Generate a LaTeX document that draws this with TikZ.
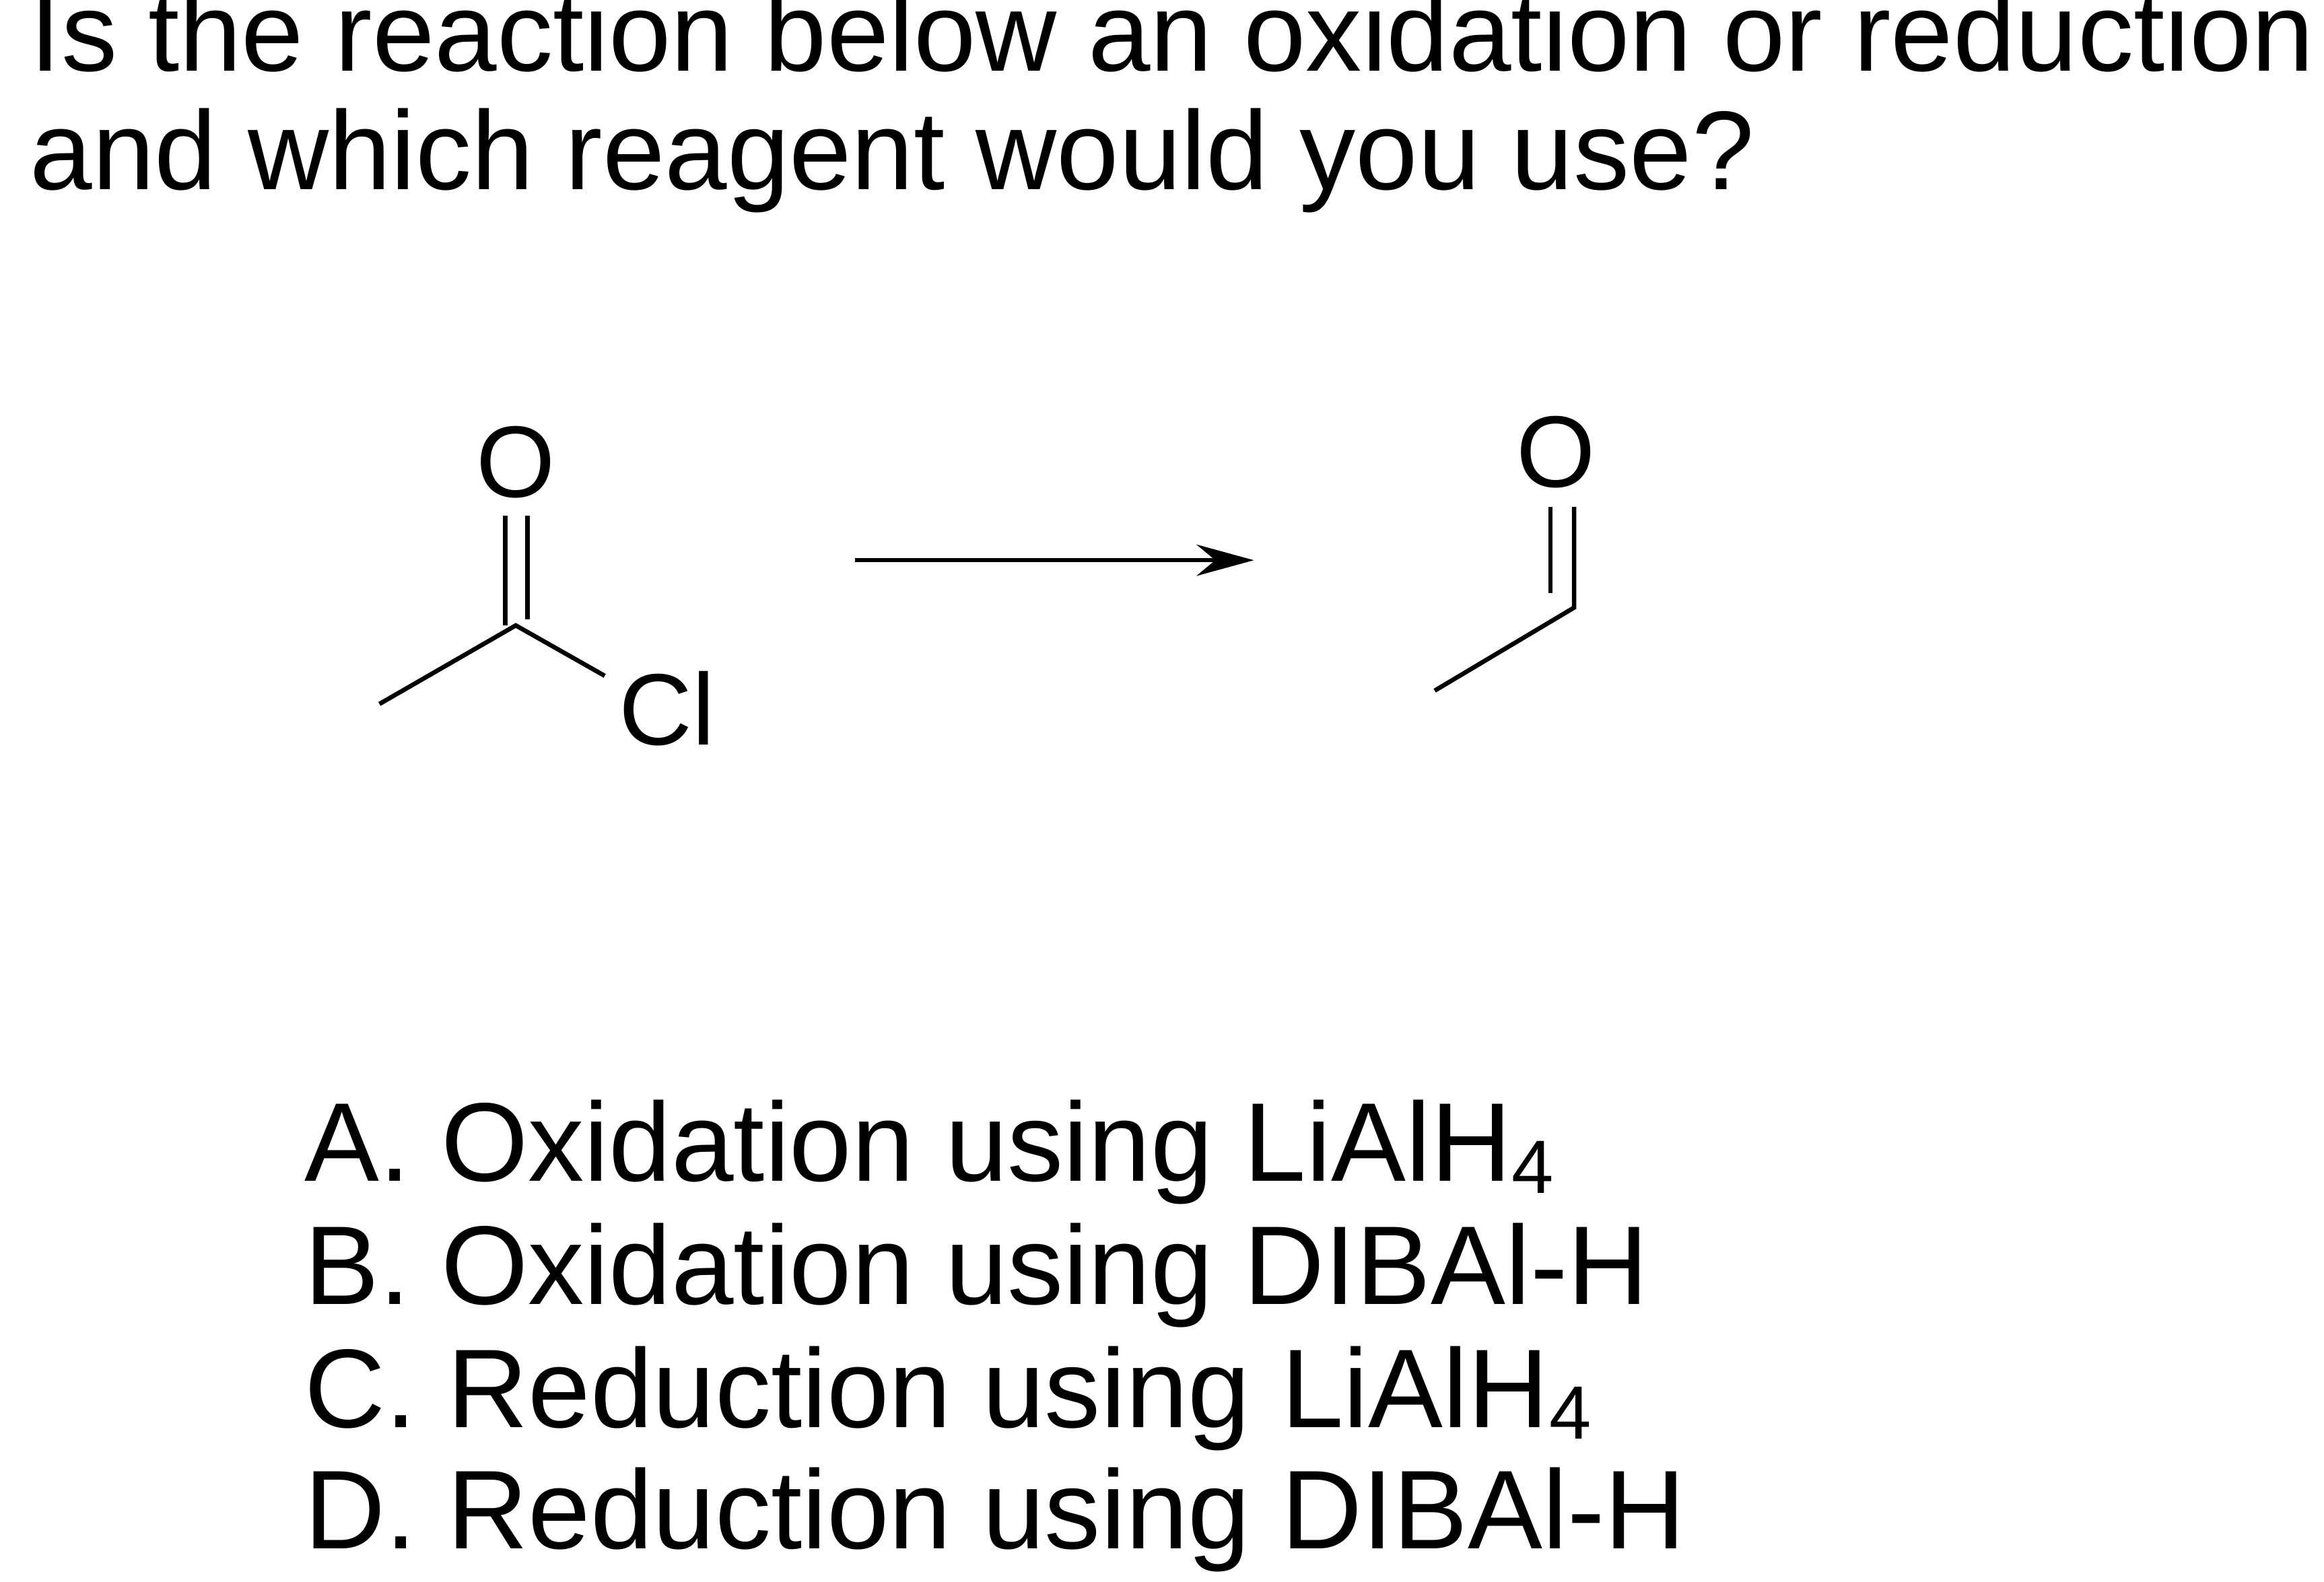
\documentclass[tikz,border=0pt]{standalone}
\usepackage{fontspec}
\setmainfont{Liberation Sans}
\usetikzlibrary{arrows.meta}
\newcommand{\subfour}{\raisebox{-0.2ex}{\fontsize{29}{29}\selectfont 4}}
\begin{document}
\begin{tikzpicture}[x=0.02cm,y=-0.02cm,
  txt/.style={anchor=base west,inner sep=0pt,font=\fontsize{43}{50}\selectfont},
  atom/.style={inner sep=0pt,font=\fontsize{39}{42}\selectfont},
  bond/.style={line width=1.7pt},
  rxn/.style={line width=1.7pt,-{Stealth[length=22pt,width=12pt]}}]
\useasboundingbox (0,0) rectangle (1568,1067);
\node[txt] (t1) at (20,48) {Is the reaction below an oxidation or reduction};
\node[txt] (t2) at (20,128) {and which reagent would you use?};
% left molecule
\node[atom] (o1) at (348,312) {O};
\coordinate (c1) at (348,422);
\coordinate (m1) at (256,475);
\node[atom] (cl) at (450,478) {Cl};
\draw[bond] (m1) -- (c1) -- (408,456);
\draw[bond] (341,422) -- (341,348);
\draw[bond] (356,418) -- (356,348);
% arrow
\coordinate (a1) at (577,378);
\coordinate (a2) at (846,378);
\draw[rxn] (a1) -- (a2);
% right molecule
\node[atom] (o2) at (1050,305) {O};
\coordinate (c2) at (1062,410);
\coordinate (m2) at (968,466);
\draw[bond] (m2) -- (c2) -- (1062,342);
\draw[bond] (1046,400) -- (1046,342);
% options
\node[txt] (oa) at (205,797) {A. Oxidation using LiAlH\subfour};
\node[txt] (ob) at (205,880) {B. Oxidation using DIBAl-H};
\node[txt] (oc) at (205,963) {C. Reduction using LiAlH\subfour};
\node[txt] (od) at (205,1045) {D. Reduction using DIBAl-H};
\end{tikzpicture}
\end{document}
